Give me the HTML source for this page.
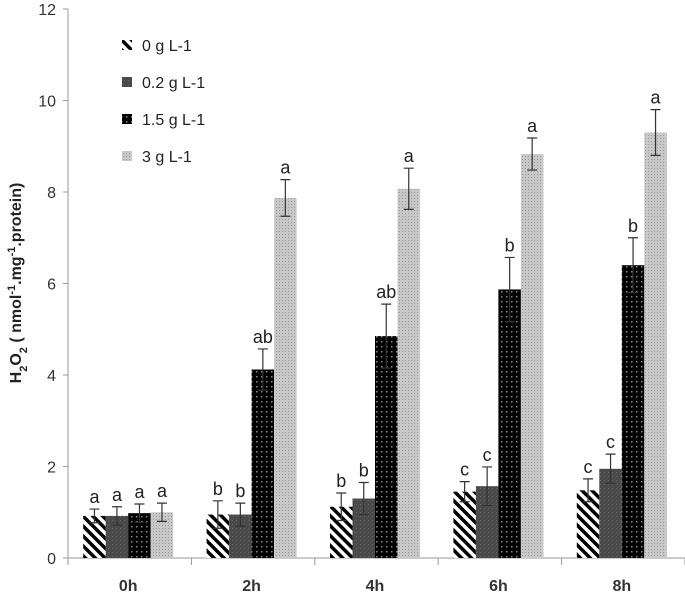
<!DOCTYPE html>
<html><head><meta charset="utf-8"><style>
body{margin:0;background:#fff;font-family:"Liberation Sans",sans-serif}
</style></head><body>
<svg id="c" width="685" height="591" xmlns="http://www.w3.org/2000/svg">
<defs>
<pattern id="p0" width="7" height="7" patternUnits="userSpaceOnUse" patternTransform="rotate(-45)"><rect width="7" height="7" fill="#fff"/><rect width="3.5" height="7" fill="#000"/></pattern>
<pattern id="p1" width="4" height="4" patternUnits="userSpaceOnUse"><rect width="4" height="4" fill="#4a4a4a"/><rect width="1" height="1" fill="#666"/></pattern>
<pattern id="p2" width="5" height="5" patternUnits="userSpaceOnUse"><rect width="5" height="5" fill="#000"/><rect x="1" y="1" width="1.5" height="1.5" fill="#888"/></pattern>
<pattern id="p3" width="3" height="3" patternUnits="userSpaceOnUse"><rect width="3" height="3" fill="#c8c8c8"/><rect width="1" height="1" fill="#999"/></pattern>
</defs>
</svg>
<script>
const categories=["0h","2h","4h","6h","8h"];
const seriesNames=["0 g L-1","0.2 g L-1","1.5 g L-1","3 g L-1"];
const s0=[0.92,0.95,1.12,1.45,1.48];
const s1=[0.92,0.95,1.30,1.57,1.95];
const s2=[0.98,4.12,4.85,5.87,6.40];
const s3=[1.00,7.87,8.07,8.83,9.30];
const e0=[0.15,0.30,0.30,0.22,0.25];
const e1=[0.20,0.25,0.35,0.42,0.32];
const e2=[0.20,0.45,0.70,0.70,0.60];
const e3=[0.20,0.40,0.45,0.35,0.50];
const l0=["a","b","b","c","c"];
const l1=["a","b","b","c","c"];
const l2=["a","ab","ab","b","b"];
const l3=["a","a","a","a","a"];
const yTicks=[0,2,4,6,8,10,12];
const series=[s0,s1,s2,s3],errs=[e0,e1,e2,e3],labs=[l0,l1,l2,l3];
const svg=document.getElementById('c'),NS="http://www.w3.org/2000/svg";
const x0=68,x1=685,yb=558,yt=9;
const y=v=>yb-(v/12)*(yb-yt);
const cw=(x1-x0)/categories.length;
function mk(t,a,p){const e=document.createElementNS(NS,t);for(const k in a)e.setAttribute(k,a[k]);(p||svg).appendChild(e);return e;}
let ax=mk('line',{x1:x0,y1:yt,x2:x0,y2:yb,stroke:'#999'});


let bx=mk('line',{x1:x0,y1:yb,x2:x1,y2:yb,stroke:'#999'});


yTicks.forEach(v=>{mk('line',{x1:x0-5,y1:y(v),x2:x0,y2:y(v),stroke:'#999'});
 const t=mk('text',{x:x0-12,y:y(v)+6,'text-anchor':'end','font-size':16,fill:'#333'});t.textContent=v;
 
 });
for(let i=0;i<=categories.length;i++)mk('line',{x1:x0+i*cw,y1:yb,x2:x0+i*cw,y2:yb+7,stroke:'#999'});
const bw=22.5;
categories.forEach((c,i)=>{
 const cx=x0+cw*i+cw/2-1.5;
 const t=mk('text',{x:cx,y:yb+33,'text-anchor':'middle','font-size':16,'font-weight':'bold',fill:'#333'});t.textContent=c;
 
 
 series.forEach((s,j)=>{
  const bxp=cx-2*bw+j*bw;
  const r=mk('rect',{x:bxp,y:y(s[i]),width:bw,height:yb-y(s[i]),fill:`url(#p${j})`});
  
  
  const mx=bxp+bw/2,top=y(s[i]+errs[j][i]),bot=y(s[i]-errs[j][i]);
  const eb=mk('path',{d:`M${mx},${bot}V${top}M${mx-5},${top}H${mx+5}M${mx-5},${bot}H${mx+5}`,stroke:'#333','stroke-width':1.2,fill:'none'});
  
  
  const lt=mk('text',{x:mx,y:top-6,'text-anchor':'middle','font-size':18,fill:'#222'});lt.textContent=labs[j][i];
  
  
 });
});
const lg=mk('g',{});


seriesNames.forEach((n,j)=>{
 const yy=46+j*37;
 mk('rect',{x:122,y:yy-6,width:10,height:10,fill:`url(#p${j})`},lg);
 const t=mk('text',{x:142,y:yy+5,'font-size':16,fill:'#222'},lg);t.textContent=n;
 
 
});
const yl=mk('text',{transform:'translate(21,283) rotate(-90)','text-anchor':'middle','font-size':16,'font-weight':'bold',fill:'#222'});
yl.innerHTML='H<tspan baseline-shift="sub" font-size="11">2</tspan>O<tspan baseline-shift="sub" font-size="11">2</tspan> ( nmol<tspan baseline-shift="super" font-size="11">-1</tspan>.mg<tspan baseline-shift="super" font-size="11">-1</tspan>.protein)';


</script>
</body></html>
